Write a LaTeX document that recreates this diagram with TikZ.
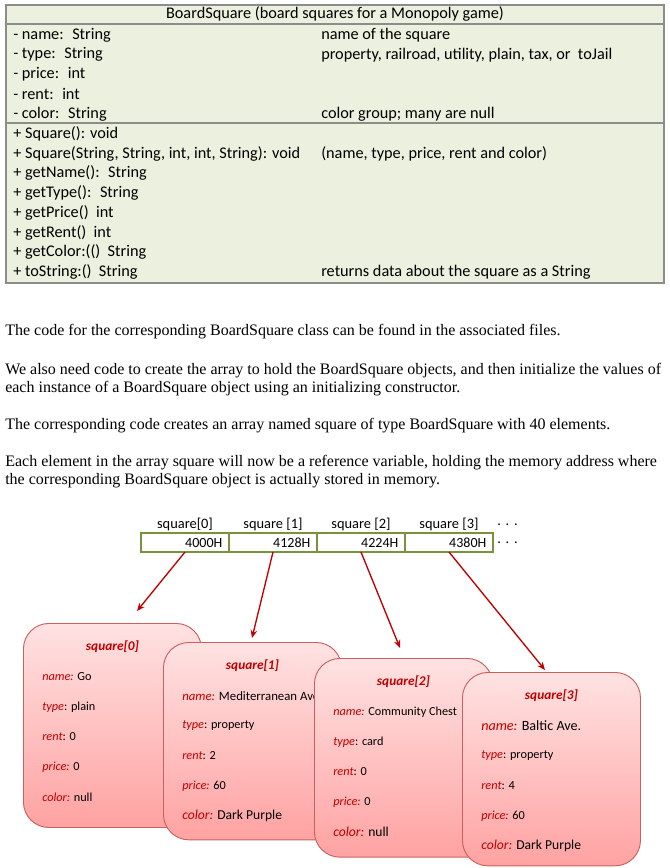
\documentclass[tikz,border=0pt]{standalone}
\usepackage{fontspec}
\setmainfont{Liberation Serif}
\newfontfamily\calibri{Carlito}
\usetikzlibrary{positioning, arrows.meta, calc}

\definecolor{tablebg}{HTML}{EBF1DE}
\definecolor{tableline}{HTML}{8C8C8C}
\definecolor{cellline}{HTML}{77933C}
\definecolor{lblred}{HTML}{C00000}
\definecolor{boxtop}{HTML}{FFE2E2}
\definecolor{boxbot}{HTML}{FFA2A2}
\definecolor{boxline}{HTML}{CC5F5F}

\newcommand\lbl[1]{{\color{lblred}\itshape #1}}
\newcommand\fsz[1]{\fontsize{#1}{12}\selectfont}

\tikzset{
  row/.style={anchor=west, inner sep=0pt, font=\calibri\fontsize{12.2}{14}\selectfont},
  para/.style={anchor=west, inner sep=0pt, align=left, font=\fontsize{12}{13.5}\selectfont},
  cell/.style={draw=cellline, line width=0.9pt, outer sep=0pt, minimum width=66pt,
    minimum height=14.25pt, text width=56pt, inner xsep=5pt, inner ysep=0pt, align=right,
    font=\calibri\fontsize{10.5}{12}\selectfont},
  idx/.style={inner sep=1pt, font=\calibri\fontsize{10.8}{12}\selectfont},
  sqbox/.style={draw=boxline, line width=0.7pt, rounded corners=19pt, anchor=north west,
    minimum width=133.5pt, top color=boxtop, bottom color=boxbot},
  sqtitle/.style={inner sep=0pt, text=lblred, font=\calibri\bfseries\itshape\fontsize{10}{11}\selectfont},
  field/.style={anchor=west, inner sep=0pt, font=\calibri\fontsize{9.2}{10}\selectfont},
  ptr/.style={draw=lblred, line width=1pt, -{Stealth[length=6pt, width=5pt]}}
}

\begin{document}
\begin{tikzpicture}[x=0.75pt, y=-0.75pt]
  \useasboundingbox (0,0) rectangle (669,868);

  % class table
  \fill[tablebg] (6,5) rectangle (664,283);
  \draw[tableline, line width=1pt] (6,24) -- (664,24) (6,123) -- (664,123);
  \draw[tableline, line width=1.2pt] (6,5) rectangle (664,283);
  \node[row, anchor=center] (head) at (335,14) {BoardSquare (board squares for a Monopoly game)};
  \foreach \ltxt/\rtxt [count=\r] in {
      {- name:~ String}/{name of the square},
      {- type:~ String}/{property, railroad, utility, plain, tax, or~ toJail},
      {- price:~ int}/{},
      {- rent:~ int}/{},
      {- color:~ String}/{color group; many are null},
      {+ Square(): void}/{},
      {+ Square(String, String, int, int, String): void}/{(name, type, price, rent and color)},
      {+ getName():~ String}/{},
      {+ getType():~ String}/{},
      {+ getPrice()~ int}/{},
      {+ getRent()~ int}/{},
      {+ getColor:(()~ String}/{},
      {+ toString:()~ String}/{returns data about the square as a String}} {
    \pgfmathsetmacro\ry{35+(\r-1)*19.75}
    \node[row] (left\r) at (13,\ry) {\ltxt};
    \node[row] (right\r) at (321,\ry) {\rtxt};
  }

  % text
  \node[para] (p1) at (5,332) {The code for the corresponding BoardSquare class can be found in the associated files.};
  \node[para] (p2) at (5,380) {We also need code to create the array to hold the BoardSquare objects, and then initialize the values of\\
    each instance of a BoardSquare object using an initializing constructor.};
  \node[para] (p3) at (5,426) {The corresponding code creates an array named square of type BoardSquare with 40 elements.};
  \node[para] (p4) at (5,472) {Each element in the array square will now be a reference variable, holding the memory address where\\
    the corresponding BoardSquare object is actually stored in memory.};

  % array
  \node[cell] (c0) at (185,542.5) {4000H};
  \node[cell, right=0pt of c0] (c1) {4128H};
  \node[cell, right=0pt of c1] (c2) {4224H};
  \node[cell, right=0pt of c2] (c3) {4380H};
  \node[idx, above=0.5pt of c0] (l0) {square[0]};
  \node[idx, above=0.5pt of c1] (l1) {square [1]};
  \node[idx, above=0.5pt of c2] (l2) {square [2]};
  \node[idx, above=0.5pt of c3] (l3) {square [3]};
  \node[idx, right=2pt of c3] (dots) {.\,\,.\,\,.};
  \node[idx] (dotsup) at (l3 -| dots) {.\,\,.\,\,.};

  % objects
  \foreach \i/\x/\y/\h/\nf/\cf/\nm/\ty/\rt/\pr/\co in {
      0/23/623/153/9.2/9.2/Go/plain/0/0/null,
      1/163/642/148/9.6/10.2/Mediterranean Ave/property/2/60/Dark Purple,
      2/314/658/149/9.2/10.2/Community Chest/card/0/0/null,
      3/462/672/145/10.6/10.2/Baltic Ave./property/4/60/Dark Purple} {
    \node[sqbox, minimum height=\h pt] (sq\i) at (\x,\y) {};
    \node[sqtitle] (title\i) at ($(sq\i.north)+(0,24)$) {square[\i]};
    \node[field] (name\i) at ($(sq\i.north west)+(19,54)$) {\fsz{\nf}\lbl{name:} \nm};
    \node[field] (type\i) at ($(sq\i.north west)+(19,84)$) {\lbl{type}: \ty};
    \node[field] (rent\i) at ($(sq\i.north west)+(19,114)$) {\lbl{rent}: \rt};
    \node[field] (price\i) at ($(sq\i.north west)+(19,144)$) {\lbl{price:} \pr};
    \node[field] (color\i) at ($(sq\i.north west)+(19,174)$) {\fsz{\cf}\lbl{color:} \co};
  }

  % pointers
  \coordinate (t0) at (137,611);
  \coordinate (t1) at (252,638);
  \coordinate (t2) at (400,648);
  \coordinate (t3) at (545,670);
  \draw[ptr] (c0.south) -- (t0);
  \draw[ptr] (c1.south) -- (t1);
  \draw[ptr] (c2.south) -- (t2);
  \draw[ptr] (c3.south) -- (t3);
\end{tikzpicture}
\end{document}
